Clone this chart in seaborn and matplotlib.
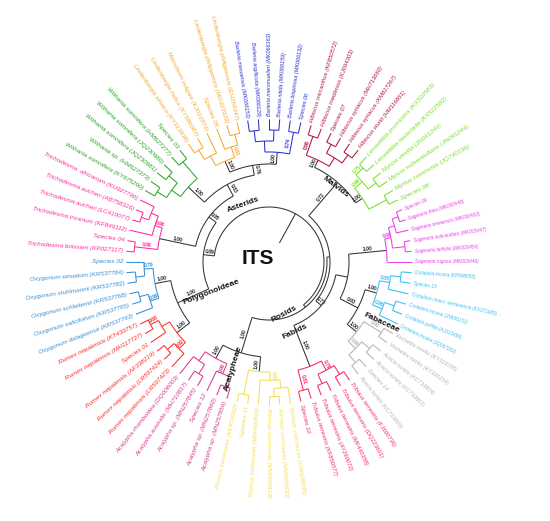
import numpy as np
import matplotlib
matplotlib.use("Agg")
import matplotlib.pyplot as plt
import seaborn as sns

# tip labels of each clade, listed counter-clockwise
acalypha = ["Acalypha rhomboidea (DQ006003)", "Acalypha australis (MH710817)", "Acalypha sp. (MN257845)",
            "Species 12", "Acalypha sp. (MN257860)", "Acalypha sp. (MN257859)"]
ricinus = ["Ricinus communis (KF453992)", "Species 11", "Ricinus communis (MW465829)",
           "Ricinus communis (MW465819)", "Ricinus communis (MW465830)", "Ricinus communis (OM108895)"]
tribulus = ["Species 10", "Tribulus terrestris (KF850577)", "Tribulus terrestris (AY260072)",
            "Tribulus terrestris (MF440358)", "Tribulus terrestris (DQ223601)", "Tribulus terrestris (FJ600736)"]
acacia = ["Acacia tortilis (KC733800)", "Species 14", "Acacia tortilis (KC733801)",
          "Acacia tortilis (KC733804)", "Vachellia tortilis (KY316154)", "Vachellia tortilis (KY316155)"]
crotalaria = ["Crotalaria incana (JQ067262)", "Crotalaria pallida (AJ313499)", "Crotalaria incana (JN990131)",
              "Crotalaria chaco -serranensis (KX371685)...", "Species 13", "Crotalaria incana (KP698656)"]
sageretia = ["Sageretia rugosa (MK000446)", "Sageretia latifolia (MK000454)", "Sageretia subcaudata (MK000447)",
             "Sageretia omeiensis (MK000463)", "Sageretia thea (MK000448)", "Species 09"]
myrtaceae = ["Species 08", "Myrtus communis (JQ740196)", "Myrcia subverticillaris (JN091244)",
             "Myrcia vestita (JN091249)", "Lenwebbia lasioclada (KX522582)", "Lenwebbia prominens (KX522583)"]
hibiscus = ["Hibiscus sturtii (HM116861)", "Hibiscus syriacus (KM817267)", "Hibiscus syriacus (MH713660)",
            "Species 07", "Hibiscus meidensis (KJ094303)", "Hibiscus micranthus (KF850572)"]
barleria = ["Species 06", "Barleria bispinosa (MK066132)", "Barleria nitida (MK066159)",
            "Barleria merxmuelleri (MK066163)", "Barleria argillicola (MK066129)", "Barleria mesoensis (MK066153)"]
lamiales = ["Lindenbergia philippensis (EU259347)", "Lindenbergia philippensis (MG323320)", "Species 05",
            "Marrubium vulgare (KJ021874)", "Lindenbergia indica (KY586087)", "Lindenbergia sinaica (KY313938)"]
withania = ["Species 03", "Withania somnifera (HM627277)", "Withania somnifera (JQ230980)",
            "Withania somnifera (JQ230981)", "Withania sp. (HM627373)", "Withania somnifera (KY675290)"]
trichodesma = ["Trichodesma  africanum (KU927790)", "Trichodesma aucheri (AB758316)", "Trichodesma aucheri (LC410077)",
               "Trichodesma incanum (KF849112)", "Species 04", "Trichodesma boissieri (KP027117)"]
oxygonum = ["Species 02", "Oxygonum sinuatum (KR537784)", "Oxygonum stuhlmannii (KR537782)",
            "Oxygonum schliebenii (KR537768)", "Oxygonum salicifolium (KR537765)", "Oxygonum dalagoense (KR537793)"]
rumex = ["Rumex nepalensis (KT439757)", "Rumex nepalensis (MH117727)", "Species 01",
         "Rumex nepalensis (AF338219)", "Rumex nepalensis (LR597424)", "Rumex nepalensis (LR597423)"]

# topology inside each clade (tip numbers are positions in the lists above) with posterior support
clade_trees = {
    "ACA": "((0,(1,2)),(3,(4,5))0.96)1.00",
    "RIC": "((0,1),(2,((3,4),5))0.85)1.00",
    "TRB": "((0,1)0.81,((2,3),(4,5))0.79)1.00",
    "ACC": "(((0,1),(2,3))0.90,(4,5)0.92)1.00",
    "CRO": "((0,(1,2))0.96,(3,(4,5))0.85)1.00",
    "SAG": "(0,((1,2),(3,(4,5)))0.98)1.00",
    "MYR": "((0,1),((2,3),(4,5)0.75)0.99)1.00",
    "HIB": "(((0,1),(2,3)),(4,5)0.98)1.00",
    "BAR": "((0,1)0.74,((2,3),(4,5)))1.00",
    "LAM": "(((0,1),2)0.81,(3,(4,5)))1.00",
    "WIT": "((0,1),((2,3),(4,5)))1.00",
    "TRC": "(((0,(1,2)),3)0.96,(4,5)0.96)1.00",
    "OXY": "((0,(1,2))0.79,((3,4),5)0.99)1.00",
    "RUM": "(((0,1)0.68,2),((3,4),5)0.92)1.00",
}
# backbone with support and branch lengths (px)
backbone = ("(((ACA:15,RIC:15)1.00:37,((TRB:44,((ACC:12,CRO:12)0.93:20,SAG:38):12)0.73:7,"
            "(MYR:8,HIB:8)0.72:44):3):3,((((BAR:12,LAM:12)0.76:10,WIT:22)0.83:13,TRC:37)0.95:9,"
            "(OXY:16,RUM:16)1.00:34)0.89:11)")

clade_order = ["ACA", "RIC", "TRB", "ACC", "CRO", "SAG", "MYR", "HIB", "BAR", "LAM", "WIT", "TRC", "OXY", "RUM"]
clade_tips = dict(zip(clade_order, [acalypha, ricinus, tribulus, acacia, crotalaria, sageretia, myrtaceae,
                                    hibiscus, barleria, lamiales, withania, trichodesma, oxygonum, rumex]))
clade_colors = {"ACA": "#d63b8f", "RIC": "#f3df55", "TRB": "#f7256a", "ACC": "#b4b4b4", "CRO": "#38bdf0",
                "SAG": "#ea3fe6", "MYR": "#7be02c", "HIB": "#b3123c", "BAR": "#2a2fd0", "LAM": "#f6a92c",
                "WIT": "#2ea52a", "TRC": "#ff2a9d", "OXY": "#3a8fd0", "RUM": "#ff2a2a"}
clade_font = {"SAG": 3.4, "CRO": 3.3, "BAR": 4.0, "HIB": 4.2, "ACC": 4.1, "TRB": 4.2}

# clade names drawn on the tree: text, pixel position, rotation
clade_names = [("Asterids", 243, 205, 20), ("Polygonoideae", 211, 292, 21), ("Malvids", 336, 187, -37),
               ("Rosids", 284, 314, 28), ("Fabids", 295, 332, 26), ("Fabaceae", 382, 323, -25),
               ("Acalypheae", 233, 368, 73)]


def parse(s):
    pos = 0

    def number():
        nonlocal pos
        j = pos
        while pos < len(s) and (s[pos].isdigit() or s[pos] == "."):
            pos += 1
        return s[j:pos]

    def node():
        nonlocal pos
        if s[pos] == "(":
            pos += 1
            kids = [node()]
            while s[pos] == ",":
                pos += 1
                kids.append(node())
            pos += 1  # ')'
            nd = {"kids": kids, "sup": number() or None}
        else:
            j = pos
            while pos < len(s) and s[pos] not in ",():":
                pos += 1
            nd = {"kids": [], "name": s[j:pos], "sup": None}
        nd["len"] = None
        if pos < len(s) and s[pos] == ":":
            pos += 1
            nd["len"] = float(number())
        return nd
    return node()


tree = parse(backbone)
n_tips = sum(len(v) for v in clade_tips.values())
step = 360.0 / n_tips
offset = {}
k = 0
for c in clade_order:
    offset[c] = k
    k += len(clade_tips[c])

R_ROOT = 55.0
R_TIP = 143.0


def graft(nd):
    if not nd["kids"] and nd["name"] in clade_trees:
        c = nd["name"]
        sub = parse(clade_trees[c])
        sub["len"] = nd["len"]

        def fix(m):
            m["clade"] = c
            if not m["kids"]:
                m["tip"] = offset[c] + int(m["name"])
                m["label"] = clade_tips[c][int(m["name"])]
            for q in m["kids"]:
                fix(q)
        fix(sub)
        return sub
    nd["kids"] = [graft(q) for q in nd["kids"]]
    nd["clade"] = None
    return nd


tree = graft(tree)


def heights(nd):
    nd["h"] = 0 if not nd["kids"] else 1 + max(heights(q) for q in nd["kids"])
    return nd["h"]


def layout(nd, r_parent, crown=None):
    if nd["clade"] and crown is None:
        nd["r"] = r_parent + nd["len"]
        crown = (nd["r"], nd["h"])
    elif nd["clade"]:
        r0, h0 = crown
        nd["r"] = R_TIP - nd["h"] * (R_TIP - r0) / h0
    else:
        nd["r"] = r_parent + (nd["len"] or 0)
    if not nd["kids"]:
        nd["ang"] = (nd["tip"] - 30) * step
        return
    for q in nd["kids"]:
        layout(q, nd["r"], crown)
    nd["ang"] = np.mean([q["ang"] for q in nd["kids"]])


heights(tree)
layout(tree, R_ROOT)

sns.set_theme(style="white")
plt.rcParams["font.family"] = ["Liberation Sans", "DejaVu Sans"]
fig = plt.figure(figsize=(5.5, 5.21), dpi=100)
ax = fig.add_axes([0, 0, 1, 1])
ax.set_xlim(-269, 281)
ax.set_ylim(-259, 262)
ax.set_aspect("equal")
ax.axis("off")

LW = 0.75


def pol(r, a):
    t = np.deg2rad(a)
    return r * np.cos(t), r * np.sin(t)


def readable(a):
    a = (a + 180) % 360 - 180
    if -90 <= a <= 90:
        return a, False
    return a + 180 if a < 0 else a - 180, True


def draw(nd):
    mycol = clade_colors[nd["clade"]] if nd["clade"] else "#333333"
    if nd["kids"]:
        angs = [q["ang"] for q in nd["kids"]]
        tt = np.linspace(min(angs), max(angs), 80)
        x, y = pol(nd["r"], tt)
        ax.plot(x, y, color=mycol, lw=LW, solid_capstyle="butt")
        for q in nd["kids"]:
            x0, y0 = pol(nd["r"], q["ang"])
            x1, y1 = pol(q["r"], q["ang"])
            ax.plot([x0, x1], [y0, y1], color=mycol, lw=LW, solid_capstyle="butt")
            if q["sup"]:
                rot, _ = readable(q["ang"])
                rm = (nd["r"] + q["r"]) / 2
                xm, ym = pol(rm, q["ang"])
                up = np.deg2rad(rot + 90)
                ax.text(xm + 3.2 * np.cos(up), ym + 3.2 * np.sin(up), q["sup"], fontsize=3.6,
                        color=mycol if mycol != "#333333" else "#222222", rotation=rot,
                        rotation_mode="anchor", ha="center", va="center", fontweight="bold")
            draw(q)
    else:
        c = nd["clade"]
        rot, flip = readable(nd["ang"])
        xt, yt = pol(nd["r"] + 3, nd["ang"])
        ax.text(xt, yt, nd["label"], fontsize=clade_font.get(c, 4.6), style="italic",
                color=clade_colors[c], rotation=rot, rotation_mode="anchor",
                ha="right" if flip else "left", va="center")


draw(tree)
# root branch
x0, y0 = pol(22, tree["ang"])
x1, y1 = pol(tree["r"], tree["ang"])
ax.plot([x0, x1], [y0, y1], color="#333333", lw=LW)

ax.text(258 - 269, 262 - 259, "ITS", fontsize=15, fontweight="bold", ha="center", va="center", color="#111111")
for name, px, py, rot in clade_names:
    ax.text(px - 269, 262 - py, name, fontsize=6, fontweight="bold", rotation=rot,
            ha="center", va="center", rotation_mode="anchor", color="#111111")

fig.savefig("out.png", dpi=100)
